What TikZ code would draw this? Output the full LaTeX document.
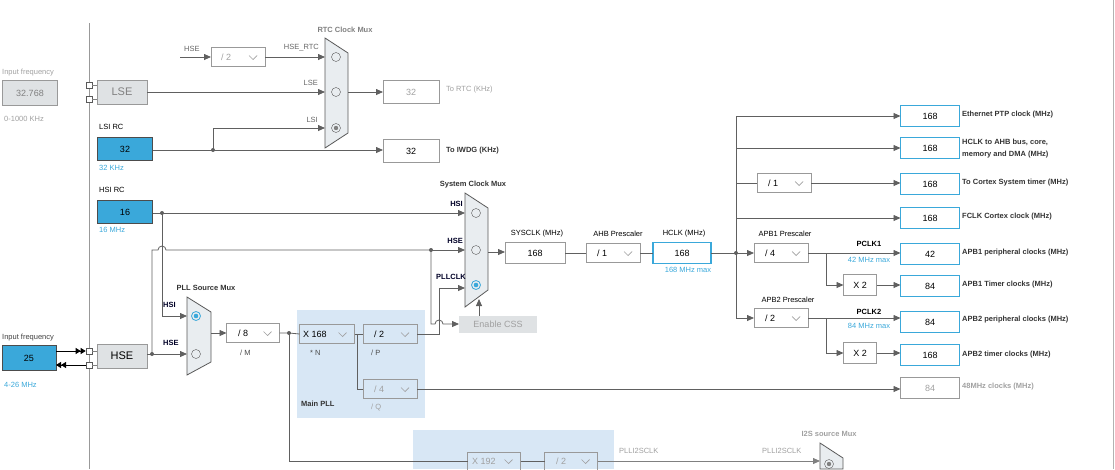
\documentclass[tikz,border=0pt]{standalone}
\usepackage{fontspec}
\setmainfont{Liberation Sans}
\usetikzlibrary{arrows.meta}
\definecolor{bl}{HTML}{3AA8DA}
\definecolor{lnc}{HTML}{606060}
\definecolor{gt}{HTML}{A0A0A0}
\definecolor{mf}{HTML}{E9EDF0}
\definecolor{pll}{HTML}{D8E7F5}
\definecolor{gf}{HTML}{DFE2E4}
\newcommand\chev[1]{\draw[gt,line width=0.7pt] ([xshift=-16pt,yshift=1.5pt]#1.east) -- ++(4,4) -- ++(4,-4);}
\begin{document}
\begin{tikzpicture}[x=1pt,y=-1pt,
  font=\fontsize{7.5}{9}\selectfont,
  ln/.style={lnc,line width=0.8pt},
  ar/.style={ln,-{Triangle[length=7pt,width=6pt]}},
  box/.style={draw=gray!80,line width=0.8pt,inner sep=0,outer sep=0,font=\fontsize{9}{10}\selectfont},
  obox/.style={draw=bl,line width=1.8pt,inner sep=0,outer sep=0,minimum width=59,minimum height=21,font=\fontsize{9}{10}\selectfont},
  gbox/.style={draw=gray!80,line width=0.8pt,inner sep=0,outer sep=0,minimum width=59,minimum height=21,text=gt,font=\fontsize{9}{10}\selectfont},
  bfill/.style={box,fill=bl,draw=gray!60!black,minimum width=55,minimum height=23},
  dd/.style={box,minimum width=54,minimum height=19},
  lb/.style={inner sep=0,anchor=west},
  bd/.style={lb,font=\fontsize{7.5}{9}\selectfont\bfseries,text=black!80},
  gl/.style={lb,text=gt},
  bt/.style={lb,text=bl},
  dot/.style={fill=lnc,circle,inner sep=0,minimum size=4pt},
  mux/.style={draw=gray!70!black,fill=mf,line width=0.8pt},
  sq/.style={draw=gray!70!black,fill=white,inner sep=0,minimum size=6pt,line width=0.6pt}
]
\useasboundingbox (0,0) rectangle (1115,469);
% shaded PLL regions
\fill[pll] (297,310) rectangle (425,418);
\fill[pll] (413,430) rectangle (614,469);
% frame lines
\draw[gray!80,line width=0.8pt] (89,23) -- (89,469);
\draw[gray!60,line width=0.8pt] (1113,0) -- (1113,469);

% ---------- left column
\node[gl] (t1) at (2,73) {Input frequency};
\node[box,fill=gf,minimum width=55,minimum height=25,text=gray] (lsein) at (30,93) {32.768};
\node[gl] (t2) at (4,119) {0-1000 KHz};
\node[box,fill=gf,minimum width=50,minimum height=24,text=gray,font=\fontsize{11}{12}\selectfont] (lse) at (122,92) {LSE};
\node[sq] (s1) at (89,85) {}; \node[sq] (s2) at (89,99) {};
\draw[gray,line width=0.6pt] (s1.east) -- (lse.west|-s1); \draw[gray,line width=0.6pt] (s2.east) -- (lse.west|-s2);
\node[lb] (t3) at (99,127) {LSI RC};
\node[bfill] (lsi) at (125,149) {32};
\node[bt] (t4) at (99,168) {32 KHz};
\node[lb] (t5) at (99,190) {HSI RC};
\node[bfill] (hsi) at (125,212) {16};
\node[bt] (t6) at (99,230) {16 MHz};
\node[lb,text=black!75] (t7) at (2,338) {Input frequency};
\node[bfill,minimum width=54,minimum height=25] (hsein) at (29,358) {25};
\node[bt] (t8) at (4,385) {4-26 MHz};
\node[box,fill=gf,minimum width=50,minimum height=24,font=\fontsize{11}{12}\selectfont] (hse) at (122,356) {HSE};
\node[sq] (s3) at (89,351) {}; \node[sq] (s4) at (89,365) {};
\draw[gray,line width=0.6pt] (s3.east) -- (hse.west|-s3); \draw[gray,line width=0.6pt] (s4.east) -- (hse.west|-s4);
\draw[black,line width=0.8pt,-{Triangle[length=5pt,width=6pt]Triangle[length=5pt,width=6pt]}] (hsein.east|-s3) -- (s3.west);
\draw[black,line width=0.8pt,-{Triangle[length=5pt,width=6pt]Triangle[length=5pt,width=6pt]}] (s4.west) -- (hsein.east|-s4);

% ---------- RTC mux
\draw[mux] (325,38) -- (348,53) -- (348,133) -- (325,148) -- cycle;
\draw[gray!70!black] (336,57) circle (4.5) (336,92) circle (4.5) (336,128) circle (4.5);
\fill[gray] (336,128) circle (2.2);
\node[bd,anchor=center,text=gray] (rtcm) at (345,30) {RTC Clock Mux};
\node[gl,text=gray!80!black] (hsel) at (184,49) {HSE};
\coordinate (hsest) at (180,57);
\node[dd] (d2) at (238,57) {}; \node[lb,text=gt,font=\fontsize{9}{10}\selectfont] (d2t) at (221,57) {/ 2}; \chev{d2}
\draw[ar] (hsest) -- (d2.west);
\coordinate (rin1) at (325,57); \coordinate (rin2) at (325,92); \coordinate (rin3) at (325,128); \coordinate (rout) at (348,92);
\draw[ar] (d2.east) -- (rin1);
\node[gl,text=gray!80!black,anchor=east] (l1) at (319,48) {HSE\_RTC};
\draw[ar] (lse.east) -- (rin2);
\node[gl,text=gray!80!black,anchor=east] (l2) at (318,83) {LSE};
\node[gbox,minimum width=56,minimum height=23] (rtc) at (411,92) {32};
\node[gl] (l3) at (446,90) {To RTC (KHz)};
\draw[ar] (rout) -- (rtc.west);
\node[box,minimum width=56,minimum height=23] (iwdg) at (411,151) {32};
\node[bd] (l4) at (446,151) {To IWDG (KHz)};
\node[dot] (dl) at (213,150) {};
\draw[ar] (lsi.east|-dl) -- (iwdg.west|-dl);
\draw[ar] (dl.center) |- (rin3);
\node[gl,text=gray!80!black,anchor=east] (l5) at (318,120) {LSI};

% ---------- System clock mux
\draw[mux] (465,193) -- (488,208) -- (488,290) -- (465,307) -- cycle;
\draw[gray!70!black] (476,213) circle (4.5) (476,250) circle (4.5);
\draw[bl,line width=0.8pt] (476,285) circle (4.5); \fill[bl] (476,285) circle (2.3);
\node[bd,anchor=center] (scm) at (473,185) {System Clock Mux};
\coordinate (sin1) at (465,213); \coordinate (sin2) at (465,250); \coordinate (sin3) at (465,288); \coordinate (sout) at (488,252);
\node[bd,anchor=east,text=black!85!blue] (l6) at (463,204) {HSI};
\node[bd,anchor=east,text=black!85!blue] (l7) at (463,241) {HSE};
\node[bd,anchor=east,text=black!85!blue] (l8) at (466,277) {PLLCLK};
\node[dot] (dh) at (162,213) {};
\draw[ar] (hsi.east|-dh) -- (sin1);

% ---------- PLL source mux
\draw[mux] (187,297) -- (211,312) -- (211,362) -- (187,375) -- cycle;
\draw[bl,line width=0.8pt] (196,316) circle (4.5); \fill[bl] (196,316) circle (2.3);
\draw[gray!70!black] (196,354) circle (4.5);
\node[bd,anchor=center] (psm) at (206,288) {PLL Source Mux};
\coordinate (pin1) at (187,316); \coordinate (pin2) at (187,354); \coordinate (pout) at (211,333);
\node[bd,anchor=west,text=black!85!blue] (l9) at (163,305) {HSI};
\node[bd,anchor=west,text=black!85!blue] (l10) at (163,343) {HSE};
\draw[ar] (dh.center) |- (pin1);
\node[dot] (dhs) at (152,354) {};
\draw[ar] (hse.east|-dhs) -- (pin2);
\node[dot] (dh2) at (431,250) {};
\draw[ln] (dhs.center) -- (152,250) -- (158,250) arc[start angle=180,end angle=360,radius=4] -- (dh2.center);
\draw[ar] (dh2.center) -- (sin2);
\node[box,fill=gf,draw=none,minimum width=78,minimum height=17,text=gt] (css) at (498,324) {Enable CSS};
\draw[ar] (dh2.center) -- (431,324) -- (435,324) arc[start angle=180,end angle=360,radius=4] -- (css.west);
\draw[ar] (css.north-|479,0) -- (479,299);

% ---------- Main PLL
\node[dd,minimum width=53] (dm) at (253,333) {}; \node[lb,font=\fontsize{9}{10}\selectfont] (dmt) at (238,333) {/ 8}; \chev{dm}
\node[lb,text=black!70] (lm) at (240,353) {/ M};
\draw[ar] (pout) -- (dm.west);
\node[dot] (dp) at (289,333) {};
\node[dd,minimum width=55] (dn) at (327,334) {}; \node[lb,font=\fontsize{9}{10}\selectfont] (dnt) at (303,334) {X 168}; \chev{dn}
\node[lb,text=black!70] (ln) at (310,353) {* N};
\draw[ln] (dm.east) -- (dp.center) -- (dn.west);
\node[dd,minimum width=54] (dpp) at (390,334) {}; \node[lb,font=\fontsize{9}{10}\selectfont] (dpt) at (374,334) {/ 2}; \chev{dpp}
\node[lb,text=black!70] (lp) at (371,353) {/ P};
\draw[ln] (dn.east) -- (dpp.west);
\node[dd,minimum width=54] (dq) at (390,389) {}; \node[lb,text=gt,font=\fontsize{9}{10}\selectfont] (dqt) at (374,389) {/ 4}; \chev{dq}
\node[gl] (lq) at (371,407) {/ Q};
\draw[ln] (357,334) |- (dq.west);
\node[bd] (mpll) at (301,404) {Main PLL};
\draw[ar] (dpp.east) -- (439,334) |- (sin3);

% ---------- SYSCLK/AHB
\node[box,minimum width=60,minimum height=21] (sys) at (535,253) {168};
\node[lb,anchor=center] (lsys) at (537,234) {SYSCLK (MHz)};
\draw[ar] (sout) -- (sys.west|-sout);
\node[dd] (ahb) at (613,253) {}; \node[lb,font=\fontsize{9}{10}\selectfont] (ahbt) at (597,253) {/ 1}; \chev{ahb}
\node[lb,anchor=center] (lahb) at (618,234) {AHB Prescaler};
\node[obox,minimum width=58] (hclk) at (682,253) {168};
\node[lb,anchor=center] (lh) at (684,234) {HCLK (MHz)};
\node[bt,anchor=center] (lhm) at (688,270) {168 MHz max};
\draw[ln] (sys.east) -- (ahb.west);
\draw[ln] (ahb.east) -- (hclk.west);
\node[dot] (db) at (736,253) {};
\draw[ln] (hclk.east) -- (db.center);

% ---------- outputs
\node[obox] (o1) at (930,116) {168}; \node[bd] (t_o1) at (962,115) {Ethernet PTP clock (MHz)};
\node[obox] (o2) at (930,148) {168}; \node[bd] (t_o2) at (962,142) {HCLK to AHB bus, core,};
\node[bd] (t_o2b) at (962,155) {memory and DMA (MHz)};
\node[obox] (o3) at (930,184) {168}; \node[bd] (t_o3) at (962,183) {To Cortex System timer (MHz)};
\node[obox] (o4) at (930,218) {168}; \node[bd] (t_o4) at (962,217) {FCLK Cortex clock (MHz)};
\node[obox] (o5) at (930,254) {42}; \node[bd] (t_o5) at (962,253) {APB1 peripheral clocks (MHz)};
\node[obox] (o6) at (930,286) {84}; \node[bd] (t_o6) at (962,285) {APB1 Timer clocks (MHz)};
\node[obox] (o7) at (930,322) {84}; \node[bd] (t_o7) at (962,320) {APB2 peripheral clocks (MHz)};
\node[obox] (o8) at (930,355) {168}; \node[bd] (t_o8) at (962,355) {APB2 timer clocks (MHz)};
\node[gbox] (o9) at (930,388) {84}; \node[gl,font=\fontsize{7.5}{9}\selectfont\bfseries] (t_o9) at (962,387) {48MHz clocks (MHz)};

\draw[ln] (db.center) -- (736,116) -- (736,318);
\draw[ar] (736,116) -- (o1.west);
\draw[ar] (736,148) -- (o2.west);
\node[dd] (c1) at (784,183) {}; \node[lb,font=\fontsize{9}{10}\selectfont] (c1t) at (768,183) {/ 1}; \chev{c1}
\draw[ln] (736,183) -- (c1.west); \draw[ar] (c1.east) -- (o3.west|-c1);
\draw[ar] (736,218) -- (o4.west);
% APB1
\node[dd] (ap1) at (781,253) {}; \node[lb,font=\fontsize{9}{10}\selectfont] (ap1t) at (765,253) {/ 4}; \chev{ap1}
\node[lb,anchor=center] (lap1) at (785,234) {APB1 Prescaler};
\draw[ar] (db.center) -- (ap1.west);
\draw[ar] (ap1.east) -- (o5.west|-ap1);
\node[bd,anchor=center,text=black] (pc1) at (869,244) {PCLK1};
\node[bt,anchor=center] (pm1) at (869,260) {42 MHz max};
\node[box,minimum width=33,minimum height=21] (x1) at (860,285) {X 2};
\draw[ar] (826,253) |- (x1.west);
\draw[ar] (x1.east) -- (o6.west|-x1);
% APB2
\node[dd] (ap2) at (781,318) {}; \node[lb,font=\fontsize{9}{10}\selectfont] (ap2t) at (765,318) {/ 2}; \chev{ap2}
\node[lb,anchor=center] (lap2) at (788,300) {APB2 Prescaler};
\draw[ar] (736,318) -- (ap2.west);
\draw[ar] (ap2.east) -- (o7.west|-ap2);
\node[bd,anchor=center,text=black] (pc2) at (869,312) {PCLK2};
\node[bt,anchor=center] (pm2) at (869,326) {84 MHz max};
\node[box,minimum width=33,minimum height=21] (x2) at (860,353) {X 2};
\draw[ar] (826,318) |- (x2.west);
\draw[ar] (x2.east) -- (o8.west|-x2);
% 48MHz
\draw[ar] (dq.east) -- (o9.west|-dq);

% ---------- I2S PLL
\node[dd,minimum width=53,minimum height=18] (di1) at (494,461) {}; \node[lb,text=gt,font=\fontsize{9}{10}\selectfont] (di1t) at (472,461) {X 192}; \chev{di1}
\node[dd,minimum width=53,minimum height=18] (di2) at (571,461) {}; \node[lb,text=gt,font=\fontsize{9}{10}\selectfont] (di2t) at (556,461) {/ 2}; \chev{di2}
\draw[ln] (dp.center) |- (di1.west);
\draw[ln] (di1.east) -- (di2.west);
\draw[mux] (820,443) -- (843,458) -- (843,469) -- (820,469) -- cycle;
\draw[gray!70!black] (829,464) circle (4.5); \fill[gray] (829,464) circle (2.2);
\coordinate (iin) at (820,461);
\draw[ar,gray] (di2.east) -- (iin);
\node[gl,font=\fontsize{7.5}{9}\selectfont\bfseries,anchor=center] (i2s) at (829,434) {I2S source Mux};
\node[gl] (pi1) at (619,451) {PLLI2SCLK};
\node[gl] (pi2) at (762,451) {PLLI2SCLK};
\end{tikzpicture}
\end{document}
